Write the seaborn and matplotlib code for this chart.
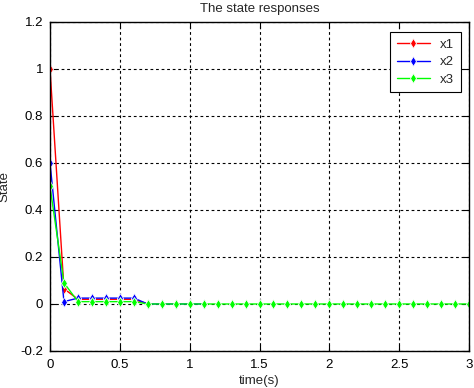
import matplotlib
matplotlib.use("Agg")
import matplotlib.pyplot as plt
import seaborn as sns
import numpy as np
import pandas as pd

t1 = [0.0, 0.1, 0.2, 0.3, 0.4, 0.5, 0.6, 0.7]
x1 = [1.0, 0.065, 0.02, 0.02, 0.02, 0.02, 0.02, 0.0]
t2 = [0.0, 0.1, 0.2, 0.3, 0.4, 0.5, 0.6, 0.7, 0.8, 0.9, 1.0, 1.1]
x2 = [0.6, 0.01, 0.025, 0.025, 0.025, 0.025, 0.025, 0.0, 0.0, 0.0, 0.0, 0.0]
t3 = [round(0.1 * i, 1) for i in range(31)]
x3 = [0.5, 0.09, 0.01, 0.01, 0.01, 0.01, 0.01] + [0.0] * 24

series_names = ["x1", "x2", "x3"]
colors = {"x1": "#ff0000", "x2": "#0000ff", "x3": "#00ff00"}

df = pd.concat([
    pd.DataFrame({"time": t1, "State": x1, "series": "x1"}),
    pd.DataFrame({"time": t2, "State": x2, "series": "x2"}),
    pd.DataFrame({"time": t3, "State": x3, "series": "x3"}),
], ignore_index=True)

sns.set_style("white")
plt.rcParams["font.family"] = ["Liberation Sans", "DejaVu Sans"]

fig = plt.figure(figsize=(4.74, 3.88), dpi=100)
ax = fig.add_axes([0.1055, 0.0954, 0.884, 0.848])

sns.lineplot(data=df, x="time", y="State", hue="series", hue_order=series_names,
             palette=colors, marker="d", markersize=5, markeredgewidth=0.6,
             linewidth=1.0, ax=ax, estimator=None, sort=False)

ax.set_xlim(0, 3)
ax.set_ylim(-0.2, 1.2)
ax.set_xticks(np.arange(0, 3.01, 0.5))
ax.set_xticklabels(["0", "0.5", "1", "1.5", "2", "2.5", "3"])
ax.set_yticks(np.arange(-0.2, 1.21, 0.2))
ax.set_yticklabels(["-0.2", "0", "0.2", "0.4", "0.6", "0.8", "1", "1.2"])
ax.grid(True, linestyle=(0, (2.5, 2.5)), color="black", linewidth=0.8)
ax.tick_params(direction="in", length=4, labelsize=9.5, top=True, right=True,
               bottom=True, left=True, colors="black")
ax.tick_params(axis="x", pad=6)
ax.tick_params(axis="y", pad=5)
for s in ax.spines.values():
    s.set_color("black")
    s.set_linewidth(1.0)

ax.set_title("The state responses", fontsize=9.5, pad=7)
ax.set_xlabel("time(s)", fontsize=9.5, labelpad=3)
ax.set_ylabel("State", fontsize=9.5, labelpad=7)

leg = ax.legend(loc="upper right", fontsize=9.5, frameon=True, fancybox=False,
                edgecolor="black", framealpha=1,
                bbox_to_anchor=(0.981, 0.970), borderaxespad=0,
                handlelength=2.5, labelspacing=0.4, handletextpad=0.8,
                borderpad=0.5)
leg.get_frame().set_linewidth(0.8)

fig.savefig("out.png", dpi=100)
